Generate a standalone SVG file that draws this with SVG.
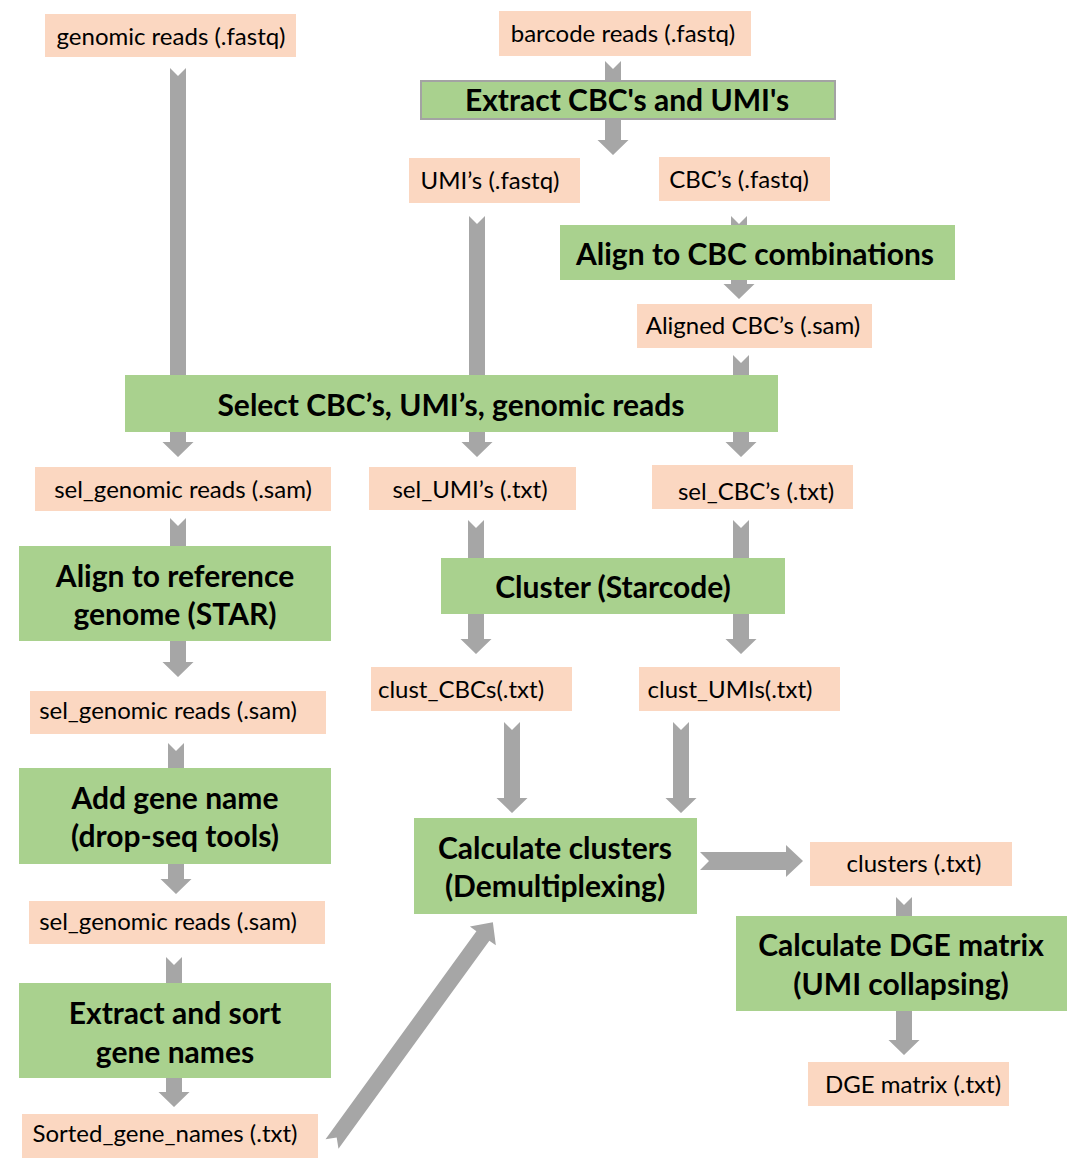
<svg xmlns="http://www.w3.org/2000/svg" width="1084" height="1172" viewBox="0 0 1084 1172">
<style>
.bg{fill:#ffffff}
.io{fill:#FBD7C1}
.op{fill:#A9D18E}
.opb{fill:#A9D18E;stroke:#A3A3A3;stroke-width:2}
.arr{fill:#A6A6A6}
.t{font-family:Lato,"Open Sans","Liberation Sans",sans-serif;font-size:24px;fill:#000;text-anchor:middle;dominant-baseline:central}
.b{font-family:Lato,"Open Sans","Liberation Sans",sans-serif;font-size:30px;font-weight:bold;fill:#000;text-anchor:middle;dominant-baseline:central}
</style>
<rect class="bg" x="0" y="0" width="1084" height="1172"/>
<g id="connectors">
<path class="arr" d="M170,68 L178,76 L186,68 L186,442 L193.5,442 L178,457 L162.5,442 L170,442 Z"/>
<path class="arr" d="M469,216 L477,224 L485,216 L485,442 L492.5,442 L477,457 L461.5,442 L469,442 Z"/>
<path class="arr" d="M733,355 L741,363 L749,355 L749,442 L756.5,442 L741,457 L725.5,442 L733,442 Z"/>
<path class="arr" d="M605,61 L613,69 L621,61 L621,140 L628.5,140 L613,155 L597.5,140 L605,140 Z"/>
<path class="arr" d="M731,216 L739,224 L747,216 L747,284 L754.5,284 L739,299 L723.5,284 L731,284 Z"/>
<path class="arr" d="M170,518 L178,526 L186,518 L186,662 L193.5,662 L178,677 L162.5,662 L170,662 Z"/>
<path class="arr" d="M168,743 L176,751 L184,743 L184,879 L191.5,879 L176,894 L160.5,879 L168,879 Z"/>
<path class="arr" d="M166,957 L174,965 L182,957 L182,1092 L189.5,1092 L174,1107 L158.5,1092 L166,1092 Z"/>
<path class="arr" d="M468,520 L476,528 L484,520 L484,639 L491.5,639 L476,654 L460.5,639 L468,639 Z"/>
<path class="arr" d="M733,520 L741,528 L749,520 L749,639 L756.5,639 L741,654 L725.5,639 L733,639 Z"/>
<path class="arr" d="M504,722 L512,730 L520,722 L520,798 L527.5,798 L512,813 L496.5,798 L504,798 Z"/>
<path class="arr" d="M673,722 L681,730 L689,722 L689,798 L696.5,798 L681,813 L665.5,798 L673,798 Z"/>
<path class="arr" d="M700,852 L786,852 L786,845 L803,861 L786,877 L786,870 L700,870 L709,861 Z"/>
<path class="arr" d="M896,897 L904,905 L912,897 L912,1040 L919.5,1040 L904,1055 L888.5,1040 L896,1040 Z"/>
<path class="arr" transform="translate(332,1144) rotate(-54.05)" d="M0,-8 L257,-8 L257,-16 L274,0 L257,16 L257,8 L0,8 L8,0 Z"/>
</g>
<g id="n-genomic-reads"><rect class="io" x="45" y="14" width="251" height="43"/><text class="t" x="171" y="35">genomic reads (.fastq)</text></g>
<g id="n-barcode-reads"><rect class="io" x="499" y="11" width="252" height="45"/><text class="t" x="623" y="32">barcode reads (.fastq)</text></g>
<g id="n-extract"><rect class="opb" x="421" y="81" width="414" height="38"/><text class="b" x="627" y="99">Extract CBC's and UMI's</text></g>
<g id="n-umis"><rect class="io" x="409" y="158" width="171" height="45"/><text class="t" x="490" y="179">UMI’s (.fastq)</text></g>
<g id="n-cbcs"><rect class="io" x="659" y="157" width="171" height="44"/><text class="t" x="739" y="178">CBC’s (.fastq)</text></g>
<g id="n-align-cbc"><rect class="op" x="560" y="225" width="395" height="55"/><text class="b" x="755" y="253">Align to CBC combinations</text></g>
<g id="n-aligned-cbcs"><rect class="io" x="637" y="304" width="235" height="44"/><text class="t" x="753" y="324">Aligned CBC’s (.sam)</text></g>
<g id="n-select"><rect class="op" x="125" y="375" width="653" height="57"/><text class="b" x="451" y="404">Select CBC’s, UMI’s, genomic reads</text></g>
<g id="n-sel-genomic-1"><rect class="io" x="35" y="467" width="296" height="44"/><text class="t" x="183" y="488">sel_genomic reads (.sam)</text></g>
<g id="n-sel-umis"><rect class="io" x="369" y="467" width="207" height="43"/><text class="t" x="470" y="488">sel_UMI’s (.txt)</text></g>
<g id="n-sel-cbcs"><rect class="io" x="652" y="465" width="201" height="44"/><text class="t" x="756" y="490">sel_CBC’s (.txt)</text></g>
<g id="n-align-ref"><rect class="op" x="19" y="546" width="312" height="95"/><text class="b" x="175" y="575">Align to reference</text><text class="b" x="175" y="613">genome (STAR)</text></g>
<g id="n-cluster"><rect class="op" x="441" y="558" width="344" height="56"/><text class="b" x="613" y="586">Cluster (Starcode)</text></g>
<g id="n-sel-genomic-2"><rect class="io" x="30" y="691" width="296" height="43"/><text class="t" x="168" y="709">sel_genomic reads (.sam)</text></g>
<g id="n-clust-cbcs"><rect class="io" x="371" y="667" width="201" height="44"/><text class="t" x="461" y="688">clust_CBCs(.txt)</text></g>
<g id="n-clust-umis"><rect class="io" x="639" y="667" width="201" height="44"/><text class="t" x="730" y="688">clust_UMIs(.txt)</text></g>
<g id="n-add-gene"><rect class="op" x="19" y="768" width="312" height="96"/><text class="b" x="175" y="797">Add gene name</text><text class="b" x="175" y="835">(drop-seq tools)</text></g>
<g id="n-calc-clusters"><rect class="op" x="414" y="818" width="283" height="96"/><text class="b" x="555" y="847">Calculate clusters</text><text class="b" x="555" y="885">(Demultiplexing)</text></g>
<g id="n-clusters"><rect class="io" x="810" y="842" width="202" height="44"/><text class="t" x="914" y="862">clusters (.txt)</text></g>
<g id="n-sel-genomic-3"><rect class="io" x="29" y="901" width="296" height="43"/><text class="t" x="168" y="920">sel_genomic reads (.sam)</text></g>
<g id="n-calc-dge"><rect class="op" x="736" y="916" width="331" height="95"/><text class="b" x="901" y="944">Calculate DGE matrix</text><text class="b" x="901" y="983">(UMI collapsing)</text></g>
<g id="n-extract-sort"><rect class="op" x="19" y="983" width="312" height="95"/><text class="b" x="175" y="1012">Extract and sort</text><text class="b" x="175" y="1051">gene names</text></g>
<g id="n-dge-matrix"><rect class="io" x="808" y="1062" width="201" height="44"/><text class="t" x="913" y="1083">DGE matrix (.txt)</text></g>
<g id="n-sorted-genes"><rect class="io" x="22" y="1114" width="296" height="44"/><text class="t" x="165" y="1132">Sorted_gene_names (.txt)</text></g>
</svg>
